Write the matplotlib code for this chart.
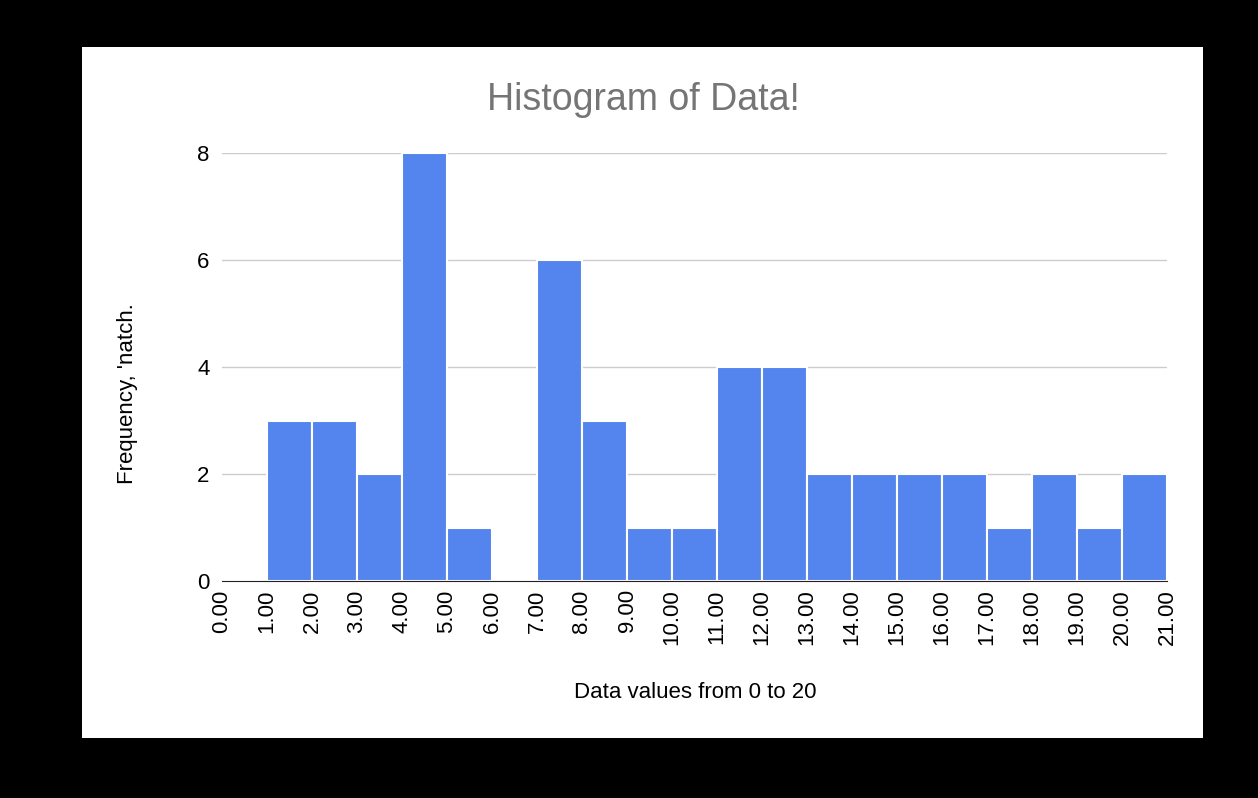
import numpy as np
import matplotlib.pyplot as plt
from matplotlib.patches import Rectangle

plt.rcParams['font.family'] = ['Liberation Sans', 'DejaVu Sans']

# histogram bins (edges 0..21) and counts per bin
bin_edges = list(range(0, 22))
counts = [0, 3, 3, 2, 8, 1, 0, 6, 3, 1, 1, 4, 4, 2, 2, 2, 2, 1, 2, 1, 2]
tick_labels = [f'{v:.2f}' for v in bin_edges]

W, H = 1258, 798
fig = plt.figure(figsize=(W/100, H/100), dpi=100, facecolor='black')

# white card on black background
fig.patches.append(Rectangle((82/W, 1-738/H), (1203-82)/W, (738-47)/H,
                             transform=fig.transFigure, facecolor='white',
                             edgecolor='none', zorder=-5))

ax = fig.add_axes([222/W, 1-581/H, (1167-222)/W, (581-153)/H])
ax.set_zorder(2)
ax.set_facecolor('white')

lefts = np.array(bin_edges[:-1])
ax.bar(lefts, counts, width=1.0, align='edge', color='#5484ED',
       edgecolor='white', linewidth=1.5, zorder=3)

ax.set_xlim(0, 21)
ax.set_ylim(0, 8)
ax.set_yticks([0, 2, 4, 6, 8])
ax.set_xticks(bin_edges)
ax.set_xticklabels(tick_labels, rotation=90, fontsize=16)
ax.tick_params(axis='y', labelsize=16, length=0, pad=9)
ax.tick_params(axis='x', length=0, pad=6)

ax.grid(axis='y', color='#cccccc', linewidth=1, zorder=0)
for s in ['top', 'right', 'left']:
    ax.spines[s].set_visible(False)
ax.spines['bottom'].set_color('#222222')
ax.spines['bottom'].set_zorder(4)

fig.text(643/W, 1-100/H, 'Histogram of Data!', ha='center', va='center',
         fontsize=27, color='#757575')
fig.text(695/W, 1-693/H, 'Data values from 0 to 20', ha='center', va='center',
         fontsize=16, color='black')
fig.text(127/W, 1-394/H, "Frequency, 'natch.", ha='center', va='center',
         rotation=90, fontsize=16, color='black')

fig.savefig('out.png', dpi=100, facecolor='black')
